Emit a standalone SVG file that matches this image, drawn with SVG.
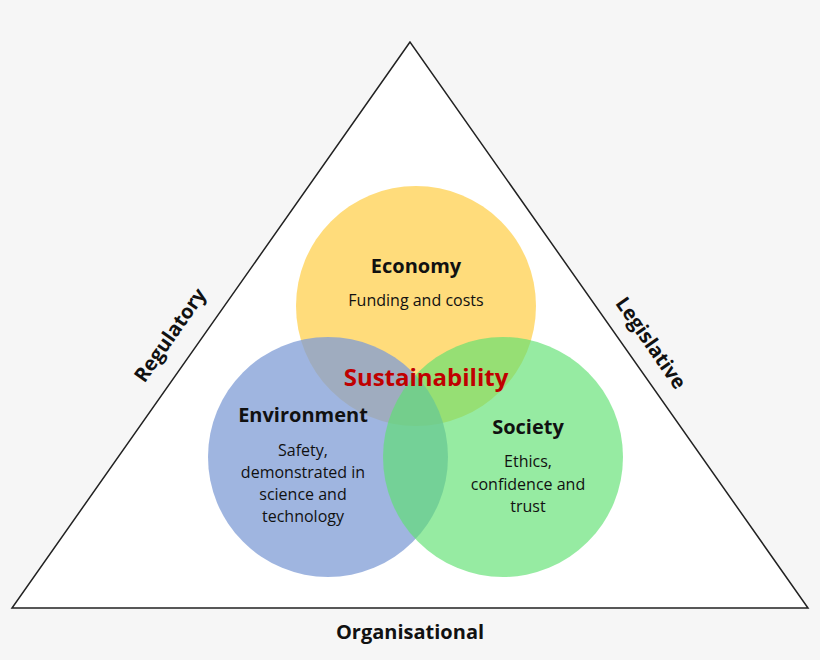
<svg xmlns="http://www.w3.org/2000/svg" width="820" height="660" viewBox="0 0 820 660">
<style>
text{font-family:"Open Sans","Liberation Sans",sans-serif;fill:#111;text-anchor:middle}
.t{font-weight:bold;font-size:20px}
.s{font-size:16px}
.c{stroke:none}
</style>
<rect width="820" height="660" fill="#f6f6f6"/>
<g id="triangle"><polygon points="410,42 12,608 808,608" fill="#fff" stroke="#222" stroke-width="1.5"/></g>
<g id="economy"><circle class="c" cx="416" cy="306" r="120" fill="#ffd35a" opacity="0.8"/></g>
<g id="environment"><circle class="c" cx="328" cy="457" r="120" fill="#7f9cd6" opacity="0.75"/></g>
<g id="society"><circle class="c" cx="503" cy="457" r="120" fill="#5ee070" opacity="0.65"/></g>
<g id="labels">
<text class="t" x="416" y="273">Economy</text>
<text class="s" x="416" y="306">Funding and costs</text>
<text class="t" x="303" y="422">Environment</text>
<text class="s" x="303" y="456">Safety,</text>
<text class="s" x="303" y="478">demonstrated in</text>
<text class="s" x="303" y="500">science and</text>
<text class="s" x="303" y="522">technology</text>
<text class="t" x="528" y="434">Society</text>
<text class="s" x="528" y="467">Ethics,</text>
<text class="s" x="528" y="490">confidence and</text>
<text class="s" x="528" y="512">trust</text>
<text class="t" x="426" y="386" style="fill:#c00000;font-size:24px">Sustainability</text>
<text class="t" x="170" y="342" transform="rotate(-55 170 335)">Regulatory</text>
<text class="t" x="651" y="350" transform="rotate(55 651 343)">Legislative</text>
<text class="t" x="410" y="639">Organisational</text>
</g>
</svg>
